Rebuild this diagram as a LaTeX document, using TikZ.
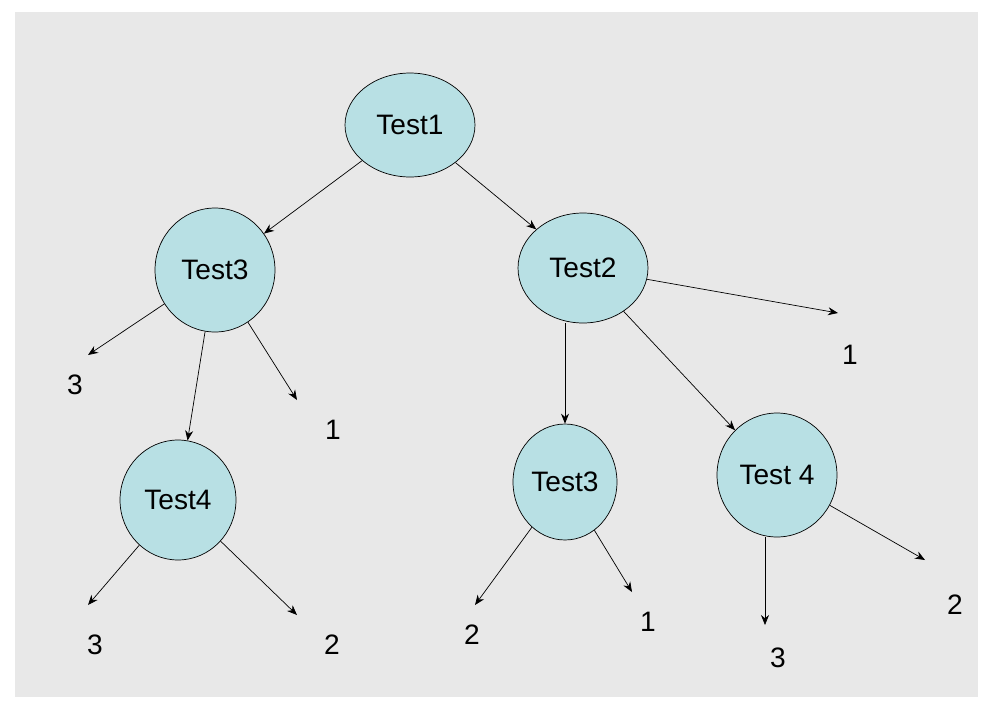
\documentclass[tikz,border=0pt]{standalone}
\usepackage{fontspec}
\setmainfont{Liberation Sans}
\definecolor{NodeFill}{RGB}{184, 224, 228}
\definecolor{BgGray}{RGB}{232, 232, 232}
\usetikzlibrary{arrows.meta, positioning, shapes}

\begin{document}
\begin{tikzpicture}[x=0.02cm, y=-0.02cm,
        test/.style={ellipse, draw=black, fill=NodeFill, inner sep=0pt, font=\fontsize{16}{18}\selectfont},
        leaf/.style={font=\fontsize{16}{18}\selectfont},
        arrow/.style={-{Stealth[length=2mm, width=1.6mm]}, thin}
    ]
        \useasboundingbox (0,0) rectangle (992,711);
        \fill[white] (0,0) rectangle (992,711);
        \fill[BgGray] (15,12) rectangle (978,697);

        % Test nodes
        \node[test, minimum width=2.6cm, minimum height=2.08cm] (t1) at (410,125) {Test1};
        \node[test, minimum width=2.4cm, minimum height=2.48cm] (t3l) at (215,270) {Test3};
        \node[test, minimum width=2.6cm, minimum height=2.2cm] (t2) at (583,268) {Test2};
        \node[test, minimum width=2.32cm, minimum height=2.4cm] (t4l) at (178,500) {Test4};
        \node[test, minimum width=2.08cm, minimum height=2.32cm] (t3r) at (565,482) {Test3};
        \node[test, minimum width=2.4cm, minimum height=2.48cm] (t4r) at (777,475) {Test 4};

        % Leaf values
        \node[leaf] (l1) at (75,385) {3};
        \node[leaf] (l2) at (333,430) {1};
        \node[leaf] (l3) at (850,355) {1};
        \node[leaf] (l4) at (95,645) {3};
        \node[leaf] (l5) at (332,645) {2};
        \node[leaf] (l6) at (472,635) {2};
        \node[leaf] (l7) at (648,622) {1};
        \node[leaf] (l8) at (778,658) {3};
        \node[leaf] (l9) at (955,605) {2};

        % Arrow ends
        \coordinate (e1) at (88,355);
        \coordinate (e2) at (297,400);
        \coordinate (e3) at (838,313);
        \coordinate (e4) at (88,605);
        \coordinate (e5) at (297,615);
        \coordinate (e6) at (475,605);
        \coordinate (e7) at (632,592);
        \coordinate (e8) at (765,625);
        \coordinate (e9) at (925,560);

        \draw[arrow] (t1) -- (t3l);
        \draw[arrow] (t1) -- (t2);
        \draw[arrow] (t3l) -- (e1);
        \draw[arrow] (t3l) -- (t4l);
        \draw[arrow] (t3l) -- (e2);
        \draw[arrow] (t2) -- (e3);
        \draw[arrow] (t2.south -| t3r) -- (t3r);
        \draw[arrow] (t2) -- (t4r);
        \draw[arrow] (t4l) -- (e4);
        \draw[arrow] (t4l) -- (e5);
        \draw[arrow] (t3r) -- (e6);
        \draw[arrow] (t3r) -- (e7);
        \draw[arrow] (t4r.south -| e8) -- (e8);
        \draw[arrow] (t4r) -- (e9);
    \end{tikzpicture}
\end{document}
